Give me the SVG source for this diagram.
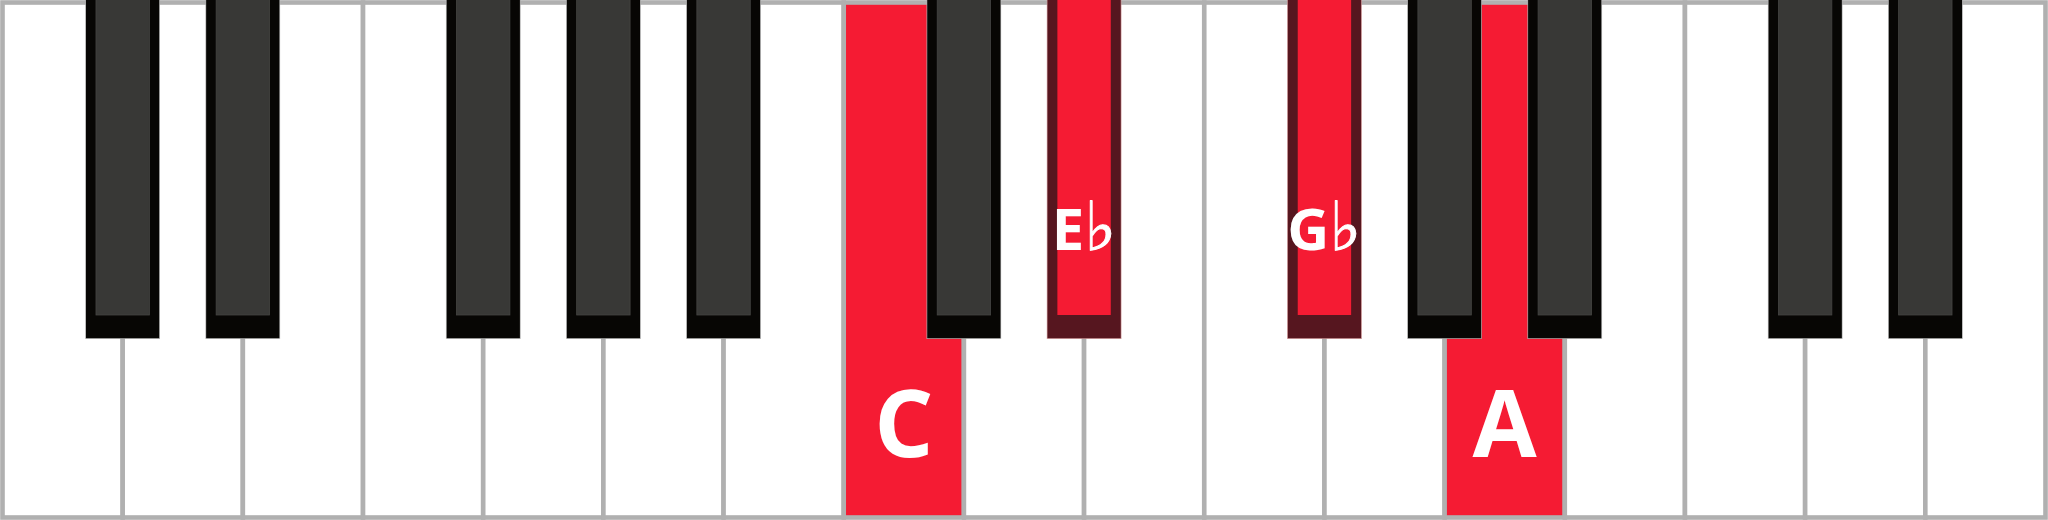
<svg xmlns="http://www.w3.org/2000/svg" width="2048" height="520" viewBox="0 0 2048 520">
<style>
.w{fill:#ffffff;stroke:#b0b0b0;stroke-width:4.6}
.wr{fill:#f51b33;stroke:#b0b0b0;stroke-width:4.6}
.bo{fill:#070604;stroke:#c8c8c8;stroke-width:0.6}
.bi{fill:#383836;stroke:#454543;stroke-width:0.8}
.ro{fill:#56161f;stroke:#d8a0a0;stroke-width:0.6}
.ri{fill:#f51b33}
.lbl{font-family:"Open Sans","Liberation Sans",sans-serif;font-weight:700;fill:#ffffff;text-anchor:middle}
.big{font-size:93px}
.sm{font-size:58px}
.flat{font-family:"DejaVu Sans",sans-serif;font-weight:400;font-style:italic;font-size:68px;stroke:#ffffff;stroke-width:0.9}
</style>
<g id="white-keys">
<rect id="w0" class="w" x="2.5" y="2.5" width="120.18" height="515"/>
<rect id="w1" class="w" x="122.68" y="2.5" width="120.18" height="515"/>
<rect id="w2" class="w" x="242.85" y="2.5" width="120.18" height="515"/>
<rect id="w3" class="w" x="363.03" y="2.5" width="120.18" height="515"/>
<rect id="w4" class="w" x="483.2" y="2.5" width="120.18" height="515"/>
<rect id="w5" class="w" x="603.38" y="2.5" width="120.18" height="515"/>
<rect id="w6" class="w" x="723.56" y="2.5" width="120.18" height="515"/>
<rect id="w7" class="wr" x="843.73" y="2.5" width="120.18" height="515"/>
<rect id="w8" class="w" x="963.91" y="2.5" width="120.18" height="515"/>
<rect id="w9" class="w" x="1084.08" y="2.5" width="120.18" height="515"/>
<rect id="w10" class="w" x="1204.26" y="2.5" width="120.18" height="515"/>
<rect id="w11" class="w" x="1324.44" y="2.5" width="120.18" height="515"/>
<rect id="w12" class="wr" x="1444.61" y="2.5" width="120.18" height="515"/>
<rect id="w13" class="w" x="1564.79" y="2.5" width="120.18" height="515"/>
<rect id="w14" class="w" x="1684.96" y="2.5" width="120.18" height="515"/>
<rect id="w15" class="w" x="1805.14" y="2.5" width="120.18" height="515"/>
<rect id="w16" class="w" x="1925.32" y="2.5" width="120.18" height="515"/>
</g>
<g id="black-keys">
<g id="b1"><rect class="bo" x="85.68" y="-1" width="74" height="339.7"/><rect class="bi" x="95.98" y="-1" width="53.4" height="316"/></g>
<g id="b2"><rect class="bo" x="205.85" y="-1" width="74" height="339.7"/><rect class="bi" x="216.15" y="-1" width="53.4" height="316"/></g>
<g id="b4"><rect class="bo" x="446.2" y="-1" width="74" height="339.7"/><rect class="bi" x="456.5" y="-1" width="53.4" height="316"/></g>
<g id="b5"><rect class="bo" x="566.38" y="-1" width="74" height="339.7"/><rect class="bi" x="576.68" y="-1" width="53.4" height="316"/></g>
<g id="b6"><rect class="bo" x="686.56" y="-1" width="74" height="339.7"/><rect class="bi" x="696.86" y="-1" width="53.4" height="316"/></g>
<g id="b8"><rect class="bo" x="926.91" y="-1" width="74" height="339.7"/><rect class="bi" x="937.21" y="-1" width="53.4" height="316"/></g>
<g id="b9"><rect class="ro" x="1047.08" y="-1" width="74" height="339.7"/><rect class="ri" x="1057.38" y="-1" width="53.4" height="316"/></g>
<g id="b11"><rect class="ro" x="1287.44" y="-1" width="74" height="339.7"/><rect class="ri" x="1297.74" y="-1" width="53.4" height="316"/></g>
<g id="b12"><rect class="bo" x="1407.61" y="-1" width="74" height="339.7"/><rect class="bi" x="1417.91" y="-1" width="53.4" height="316"/></g>
<g id="b13"><rect class="bo" x="1527.79" y="-1" width="74" height="339.7"/><rect class="bi" x="1538.09" y="-1" width="53.4" height="316"/></g>
<g id="b15"><rect class="bo" x="1768.14" y="-1" width="74" height="339.7"/><rect class="bi" x="1778.44" y="-1" width="53.4" height="316"/></g>
<g id="b16"><rect class="bo" x="1888.32" y="-1" width="74" height="339.7"/><rect class="bi" x="1898.62" y="-1" width="53.4" height="316"/></g>
</g>
<g id="labels">
<text id="lC" class="lbl big" x="903.8" y="457">C</text>
<text id="lA" class="lbl big" x="1504.7" y="457">A</text>
<text id="lEb" class="lbl sm" x="1084.1" y="250">E<tspan class="flat">♭</tspan></text>
<text id="lGb" class="lbl sm" x="1324.4" y="250">G<tspan class="flat">♭</tspan></text>
</g>
</svg>
